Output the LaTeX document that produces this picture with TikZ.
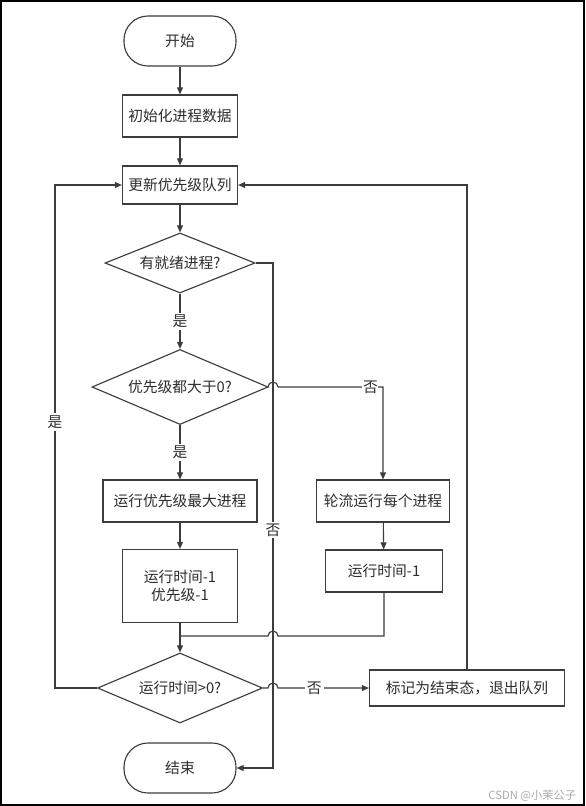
\documentclass[tikz,border=0pt]{standalone}
\usepackage{fontspec}
\setmainfont{Noto Sans CJK SC}
\usetikzlibrary{shapes.geometric, arrows.meta, positioning, calc}
\definecolor{flowLine}{RGB}{60, 60, 60}
\definecolor{flowText}{RGB}{45, 45, 45}
\definecolor{markGray}{RGB}{170, 170, 170}

\begin{document}
\begin{tikzpicture}[
    x=0.025cm, y=0.025cm,
    font=\fontsize{10.5}{13}\selectfont, text=flowText,
    box/.style={rectangle, draw=flowLine, fill=white, line width=0.8pt, align=center, minimum width=2.875cm, minimum height=1.05cm, inner sep=2pt},
    term/.style={box, rounded corners=0.6cm, minimum width=2.8cm, minimum height=1.25cm},
    decide/.style={diamond, draw=flowLine, fill=white, line width=0.8pt, align=center, inner sep=0pt, shape aspect=2.5},
    line/.style={draw=flowLine, line width=0.8pt},
    arrow/.style={line, -{Triangle[length=5pt, width=4.2pt]}},
    lbl/.style={fill=white, inner sep=1.5pt}
]
\useasboundingbox (0,0) rectangle (585,-806);
\draw[line width=1.7pt] (1.2,-1.2) rectangle (583.8,-804.8);

% main column
\node[term] (start)  at (180,-41)  {开始};
\node[box, minimum height=1.05cm] (init) at (180,-116) {初始化进程数据};
\node[box, minimum height=0.95cm] (update) at (180,-185) {更新优先级队列};
\node[decide, minimum width=3.75cm, minimum height=1.5cm] (ready) at (180,-263) {有就绪进程?};
\node[decide, minimum width=4.4cm, minimum height=1.875cm] (prio) at (180,-387) {优先级都大于0?};
\node[box, minimum width=3.85cm] (runmax) at (180,-501) {运行优先级最大进程};
\node[box, minimum height=1.825cm] (dec1) at (180,-586) {运行时间-1\\优先级-1};
\node[decide, minimum width=4.125cm, minimum height=1.75cm] (check) at (180,-688) {运行时间>0?};
\node[term] (stop) at (180,-768) {结束};

% right column
\node[box, minimum width=3.325cm] (rr) at (383,-501) {轮流运行每个进程};
\node[box, minimum width=2.925cm] (dec2) at (384,-571) {运行时间-1};
\node[box, minimum width=4.875cm, minimum height=0.9cm] (mark) at (467,-688) {标记为结束态，退出队列};

% helper points
\coordinate (rightbus) at (273,-530);
\coordinate (leftbus)  at (55,-422);
\coordinate (merge)    at (180,-636);

\draw[arrow] (start) -- (init);
\draw[arrow] (init) -- (update);
\draw[arrow] (update) -- (ready);
\draw[arrow] (ready) -- node[lbl] (yes1) {是} (prio);
\draw[arrow] (prio) -- node[lbl] (yes2) {是} (runmax);
\draw[arrow] (runmax) -- (dec1);
\draw[arrow] (dec1) -- (check);
\draw[arrow] (rr) -- (dec2);

\draw[arrow] (ready.east) -| (rightbus) |- (stop.east);
\node[lbl] (no1) at (rightbus) {否};

\draw[arrow] (prio.east) -- ($(prio.east -| rightbus)+(-5,0)$) arc[start angle=180, end angle=0, radius=0.125cm]
    -| node[pos=0.44, lbl, inner sep=0.5pt] (no2) {否} (rr.north);

\draw[line] (dec2.south) |- ($(merge -| rightbus)+(5,0)$) arc[start angle=0, end angle=180, radius=0.125cm] -- (merge);

\draw[arrow] (check.east) -- ($(check.east -| rightbus)+(-5,0)$) arc[start angle=180, end angle=0, radius=0.125cm]
    -- node[pos=0.4, lbl] (no3) {否} (mark.west);

\draw[arrow] (check.west) -| (leftbus) |- (update.west);
\node[lbl] (yes3) at (leftbus) {是};

\draw[arrow] (mark.north) |- (update.east);

\node[font=\fontsize{8}{9}\selectfont, text=markGray, anchor=east] (wm) at (581,-796) {CSDN @小茉公子};
\end{tikzpicture}
\end{document}
